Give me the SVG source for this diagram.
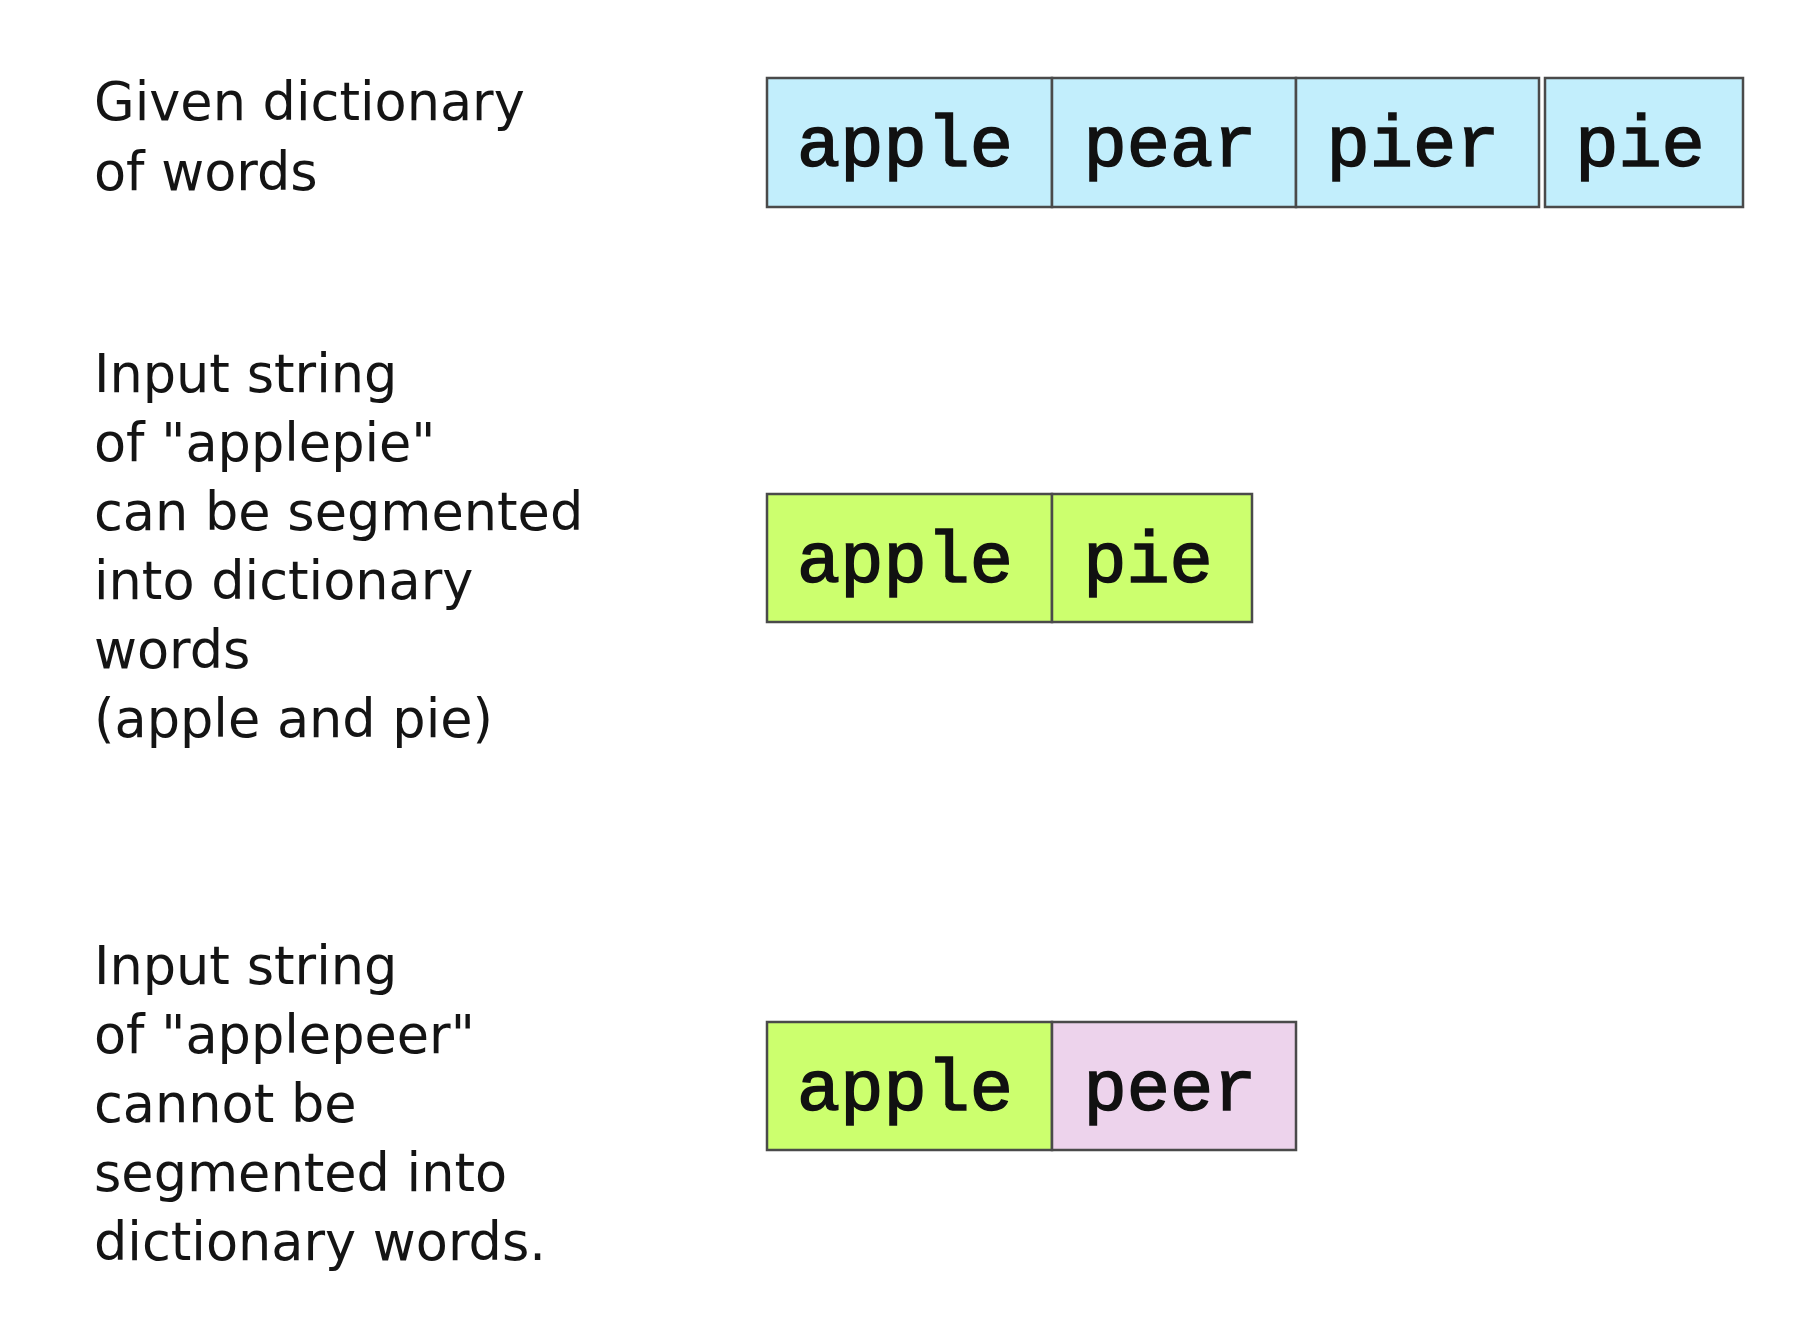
<svg xmlns="http://www.w3.org/2000/svg" width="1800" height="1321" viewBox="0 0 1800 1321">
<style>
.lbl{font-family:"DejaVu Sans","Noto Sans",sans-serif;font-size:52.5px;fill:#141414}
.box{stroke:#4a4a4a;stroke-width:2.5}
.w{font-family:"Liberation Mono","Courier New",monospace;font-size:72px;fill:#111;stroke:#111;stroke-width:1.6;text-anchor:middle}
.blue{fill:#c2eefc}
.green{fill:#ccff6e}
.pink{fill:#edd3ec}
</style>
<rect width="1800" height="1321" fill="#ffffff"/>
<g id="label-dictionary">
<text class="lbl" x="94" y="120">Given dictionary</text>
<text class="lbl" x="94" y="190">of words</text>
</g>
<g id="label-applepie">
<text class="lbl" x="94" y="392">Input string</text>
<text class="lbl" x="94" y="461">of "applepie"</text>
<text class="lbl" x="94" y="530">can be segmented</text>
<text class="lbl" x="94" y="599">into dictionary</text>
<text class="lbl" x="94" y="668">words</text>
<text class="lbl" x="94" y="737">(apple and pie)</text>
</g>
<g id="label-applepeer">
<text class="lbl" x="94" y="984">Input string</text>
<text class="lbl" x="94" y="1053">of "applepeer"</text>
<text class="lbl" x="94" y="1122">cannot be</text>
<text class="lbl" x="94" y="1191">segmented into</text>
<text class="lbl" x="94" y="1260">dictionary words.</text>
</g>
<g id="dict-apple"><rect class="box blue" x="767" y="78" width="285" height="129"/><text class="w" x="905" y="166">apple</text></g>
<g id="dict-pear"><rect class="box blue" x="1052" y="78" width="244" height="129"/><text class="w" x="1170" y="166">pear</text></g>
<g id="dict-pier"><rect class="box blue" x="1296" y="78" width="243" height="129"/><text class="w" x="1413" y="166">pier</text></g>
<g id="dict-pie"><rect class="box blue" x="1545" y="78" width="198" height="129"/><text class="w" x="1640" y="166">pie</text></g>
<g id="seg1-apple"><rect class="box green" x="767" y="494" width="285" height="128"/><text class="w" x="905" y="582">apple</text></g>
<g id="seg1-pie"><rect class="box green" x="1052" y="494" width="200" height="128"/><text class="w" x="1148" y="582">pie</text></g>
<g id="seg2-apple"><rect class="box green" x="767" y="1022" width="285" height="128"/><text class="w" x="905" y="1110">apple</text></g>
<g id="seg2-peer"><rect class="box pink" x="1052" y="1022" width="244" height="128"/><text class="w" x="1170" y="1110">peer</text></g>
<g id="connectors"></g>
</svg>
